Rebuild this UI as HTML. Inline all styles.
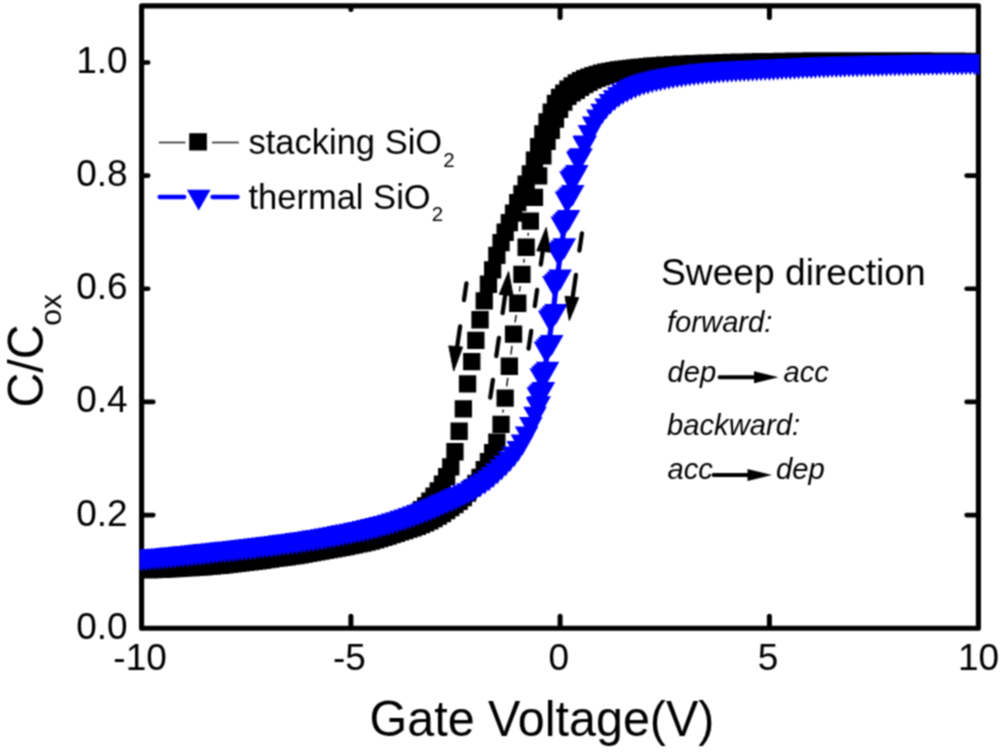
<!DOCTYPE html>
<html lang="en"><head><meta charset="utf-8"><title>C-V hysteresis: stacking vs thermal SiO2</title>
<style>html,body{margin:0;padding:0;background:#fff}body{width:1000px;height:752px;overflow:hidden}svg{display:block}text{font-family:"Liberation Sans",Arial,Helvetica,sans-serif;fill:#000}</style></head><body>
<svg width="1000" height="752" viewBox="0 0 1000 752">
<rect width="1000" height="752" fill="#fff"/>
<defs><clipPath id="plot"><rect x="140" y="4" width="839" height="626"/></clipPath><filter id="soft" x="0" y="0" width="1000" height="752" filterUnits="userSpaceOnUse"><feConvolveMatrix order="3" kernelMatrix="1 2 1 2 4 2 1 2 1" divisor="16" edgeMode="duplicate" preserveAlpha="false"/></filter></defs>
<g filter="url(#soft)">
<g stroke="#000" stroke-linecap="round" fill="none">
<rect x="141.6" y="5.9" width="836.8" height="622.3000000000001" stroke-width="5.1" stroke-linejoin="round"/>
<path stroke-width="4.6" d="M142.2 515.1H153.3M977.8 515.1H966.6M142.2 401.9H153.3M977.8 401.9H966.6M142.2 288.8H148.2M977.8 288.8H966.6M142.2 175.6H148.2M977.8 175.6H966.6M142.2 62.5H148.2M977.8 62.5H966.6"/>
<path stroke-width="5" d="M350.9 627.6V616.3M350.9 6.5V9.5M560.1 627.6V616.3M560.1 6.5V17.5M769.4 627.6V616.3M769.4 6.5V17.5"/>
</g>
<g clip-path="url(#plot)">
<path d="M502.9 412.7L503.3 409.7M506.7 386.3L507.8 377.9M510.9 354.5L512 345.8M515.1 322.4L516.2 314.9M519.4 291.5L520.2 286.1M523.7 262.7L524.3 258.9M528 235.6L528.4 232.8" stroke="#000" stroke-width="1.4" fill="none"/>
<path d="M132.4 560.7h17.3v17.3h-17.3zM136.6 560.5h17.3v17.3h-17.3zM140.8 560.3h17.3v17.3h-17.3zM145 560h17.3v17.3h-17.3zM149.2 559.8h17.3v17.3h-17.3zM153.4 559.5h17.3v17.3h-17.3zM157.6 559.2h17.3v17.3h-17.3zM161.7 559h17.3v17.3h-17.3zM165.9 558.7h17.3v17.3h-17.3zM170.1 558.4h17.3v17.3h-17.3zM174.3 558h17.3v17.3h-17.3zM178.5 557.7h17.3v17.3h-17.3zM182.7 557.4h17.3v17.3h-17.3zM186.9 557.1h17.3v17.3h-17.3zM191 556.7h17.3v17.3h-17.3zM195.2 556.4h17.3v17.3h-17.3zM199.4 556h17.3v17.3h-17.3zM203.6 555.6h17.3v17.3h-17.3zM207.8 555.3h17.3v17.3h-17.3zM212 554.9h17.3v17.3h-17.3zM216.1 554.5h17.3v17.3h-17.3zM220.3 554.1h17.3v17.3h-17.3zM224.5 553.7h17.3v17.3h-17.3zM228.7 553.3h17.3v17.3h-17.3zM232.9 552.9h17.3v17.3h-17.3zM237.1 552.4h17.3v17.3h-17.3zM241.3 552h17.3v17.3h-17.3zM245.4 551.5h17.3v17.3h-17.3zM249.6 551h17.3v17.3h-17.3zM253.8 550.5h17.3v17.3h-17.3zM258 550h17.3v17.3h-17.3zM262.2 549.5h17.3v17.3h-17.3zM266.4 549h17.3v17.3h-17.3zM270.6 548.4h17.3v17.3h-17.3zM274.7 547.9h17.3v17.3h-17.3zM278.9 547.3h17.3v17.3h-17.3zM283.1 546.7h17.3v17.3h-17.3zM287.3 546.2h17.3v17.3h-17.3zM291.5 545.6h17.3v17.3h-17.3zM295.7 544.9h17.3v17.3h-17.3zM299.8 544.3h17.3v17.3h-17.3zM304 543.7h17.3v17.3h-17.3zM308.2 543h17.3v17.3h-17.3zM312.4 542.2h17.3v17.3h-17.3zM316.6 541.5h17.3v17.3h-17.3zM320.8 540.7h17.3v17.3h-17.3zM325 539.9h17.3v17.3h-17.3zM329.1 539h17.3v17.3h-17.3zM333.3 538.2h17.3v17.3h-17.3zM337.5 537.3h17.3v17.3h-17.3zM341.7 536.4h17.3v17.3h-17.3zM345.9 535.5h17.3v17.3h-17.3zM350.1 534.5h17.3v17.3h-17.3zM354.3 533.6h17.3v17.3h-17.3zM358.4 532.5h17.3v17.3h-17.3zM362.6 531.3h17.3v17.3h-17.3zM366.8 530h17.3v17.3h-17.3zM371 528.6h17.3v17.3h-17.3zM375.2 527.1h17.3v17.3h-17.3zM379.4 525.3h17.3v17.3h-17.3zM383.5 523.4h17.3v17.3h-17.3zM387.7 521h17.3v17.3h-17.3zM391.9 518.1h17.3v17.3h-17.3zM396.1 514.9h17.3v17.3h-17.3zM400.3 511.5h17.3v17.3h-17.3zM404.5 508.1h17.3v17.3h-17.3zM408.7 504.7h17.3v17.3h-17.3zM412.8 501.1h17.3v17.3h-17.3zM417 497.2h17.3v17.3h-17.3zM421.2 492.5h17.3v17.3h-17.3zM425.4 487.6h17.3v17.3h-17.3zM429.6 482.2h17.3v17.3h-17.3zM433.8 475.6h17.3v17.3h-17.3zM438 467.9h17.3v17.3h-17.3zM442.1 458.3h17.3v17.3h-17.3zM446.3 443.1h17.3v17.3h-17.3zM450.5 422.6h17.3v17.3h-17.3zM454.7 400.2h17.3v17.3h-17.3zM458.9 375.2h17.3v17.3h-17.3zM463.1 353h17.3v17.3h-17.3zM467.2 331.7h17.3v17.3h-17.3zM471.4 311.1h17.3v17.3h-17.3zM475.6 292.3h17.3v17.3h-17.3zM479.8 275.6h17.3v17.3h-17.3zM484 261.2h17.3v17.3h-17.3zM488.2 246.8h17.3v17.3h-17.3zM492.4 234h17.3v17.3h-17.3zM496.5 223.6h17.3v17.3h-17.3zM500.7 214h17.3v17.3h-17.3zM504.9 204.4h17.3v17.3h-17.3zM509.1 194h17.3v17.3h-17.3zM513.3 185.2h17.3v17.3h-17.3zM517.5 175.6h17.3v17.3h-17.3zM521.7 165.2h17.3v17.3h-17.3zM525.8 151.6h17.3v17.3h-17.3zM530 138h17.3v17.3h-17.3zM534.2 125.2h17.3v17.3h-17.3zM538.4 113.2h17.3v17.3h-17.3zM542.6 103.6h17.3v17.3h-17.3zM546.8 94.7h17.3v17.3h-17.3zM550.9 88.8h17.3v17.3h-17.3zM555.1 84.4h17.3v17.3h-17.3zM559.3 80.6h17.3v17.3h-17.3zM563.5 77.2h17.3v17.3h-17.3zM567.7 74.3h17.3v17.3h-17.3zM571.9 72h17.3v17.3h-17.3zM576.1 70h17.3v17.3h-17.3zM580.2 68.4h17.3v17.3h-17.3zM584.4 66.9h17.3v17.3h-17.3zM588.6 65.7h17.3v17.3h-17.3zM592.8 64.5h17.3v17.3h-17.3zM597 63.6h17.3v17.3h-17.3zM601.2 62.7h17.3v17.3h-17.3zM605.4 62h17.3v17.3h-17.3zM609.5 61.3h17.3v17.3h-17.3zM613.7 60.7h17.3v17.3h-17.3zM617.9 60.2h17.3v17.3h-17.3zM622.1 59.7h17.3v17.3h-17.3zM626.3 59.2h17.3v17.3h-17.3zM630.5 58.8h17.3v17.3h-17.3zM634.6 58.4h17.3v17.3h-17.3zM638.8 57.9h17.3v17.3h-17.3zM643 57.6h17.3v17.3h-17.3zM647.2 57.2h17.3v17.3h-17.3zM651.4 56.9h17.3v17.3h-17.3zM655.6 56.6h17.3v17.3h-17.3zM659.8 56.4h17.3v17.3h-17.3zM663.9 56.1h17.3v17.3h-17.3zM668.1 55.9h17.3v17.3h-17.3zM672.3 55.6h17.3v17.3h-17.3zM676.5 55.4h17.3v17.3h-17.3zM680.7 55.2h17.3v17.3h-17.3zM684.9 55.1h17.3v17.3h-17.3zM689.1 54.9h17.3v17.3h-17.3zM693.2 54.7h17.3v17.3h-17.3zM697.4 54.6h17.3v17.3h-17.3zM701.6 54.4h17.3v17.3h-17.3zM705.8 54.3h17.3v17.3h-17.3zM710 54.2h17.3v17.3h-17.3zM714.2 54.1h17.3v17.3h-17.3zM718.3 53.9h17.3v17.3h-17.3zM722.5 53.8h17.3v17.3h-17.3zM726.7 53.7h17.3v17.3h-17.3zM730.9 53.6h17.3v17.3h-17.3zM735.1 53.5h17.3v17.3h-17.3zM739.3 53.4h17.3v17.3h-17.3zM743.5 53.3h17.3v17.3h-17.3zM747.6 53.2h17.3v17.3h-17.3zM751.8 53.1h17.3v17.3h-17.3zM756 53.1h17.3v17.3h-17.3zM760.2 53h17.3v17.3h-17.3zM764.4 52.9h17.3v17.3h-17.3zM768.6 52.9h17.3v17.3h-17.3zM772.8 52.8h17.3v17.3h-17.3zM776.9 52.7h17.3v17.3h-17.3zM781.1 52.7h17.3v17.3h-17.3zM785.3 52.6h17.3v17.3h-17.3zM789.5 52.5h17.3v17.3h-17.3zM793.7 52.5h17.3v17.3h-17.3zM797.9 52.4h17.3v17.3h-17.3zM802 52.3h17.3v17.3h-17.3zM806.2 52.3h17.3v17.3h-17.3zM810.4 52.3h17.3v17.3h-17.3zM814.6 52.2h17.3v17.3h-17.3zM818.8 52.2h17.3v17.3h-17.3zM823 52.2h17.3v17.3h-17.3zM827.2 52.2h17.3v17.3h-17.3zM831.3 52.2h17.3v17.3h-17.3zM835.5 52.2h17.3v17.3h-17.3zM839.7 52.2h17.3v17.3h-17.3zM843.9 52.2h17.3v17.3h-17.3zM848.1 52.2h17.3v17.3h-17.3zM852.3 52.2h17.3v17.3h-17.3zM856.5 52.2h17.3v17.3h-17.3zM860.6 52.2h17.3v17.3h-17.3zM864.8 52.2h17.3v17.3h-17.3zM869 52.2h17.3v17.3h-17.3zM873.2 52.2h17.3v17.3h-17.3zM877.4 52.2h17.3v17.3h-17.3zM881.6 52.2h17.3v17.3h-17.3zM885.7 52.2h17.3v17.3h-17.3zM889.9 52.2h17.3v17.3h-17.3zM894.1 52.2h17.3v17.3h-17.3zM898.3 52.2h17.3v17.3h-17.3zM902.5 52.3h17.3v17.3h-17.3zM906.7 52.3h17.3v17.3h-17.3zM910.9 52.3h17.3v17.3h-17.3zM915 52.3h17.3v17.3h-17.3zM919.2 52.4h17.3v17.3h-17.3zM923.4 52.4h17.3v17.3h-17.3zM927.6 52.4h17.3v17.3h-17.3zM931.8 52.5h17.3v17.3h-17.3zM936 52.5h17.3v17.3h-17.3zM940.2 52.5h17.3v17.3h-17.3zM944.3 52.6h17.3v17.3h-17.3zM948.5 52.6h17.3v17.3h-17.3zM952.7 52.7h17.3v17.3h-17.3zM956.9 52.7h17.3v17.3h-17.3zM961.1 52.8h17.3v17.3h-17.3zM965.3 52.9h17.3v17.3h-17.3zM969.4 52.9h17.3v17.3h-17.3zM132.4 561.3h17.3v17.3h-17.3zM136.6 561.2h17.3v17.3h-17.3zM140.8 561.1h17.3v17.3h-17.3zM145 560.9h17.3v17.3h-17.3zM149.2 560.8h17.3v17.3h-17.3zM153.4 560.6h17.3v17.3h-17.3zM157.6 560.4h17.3v17.3h-17.3zM161.7 560.2h17.3v17.3h-17.3zM165.9 560h17.3v17.3h-17.3zM170.1 559.8h17.3v17.3h-17.3zM174.3 559.5h17.3v17.3h-17.3zM178.5 559.3h17.3v17.3h-17.3zM182.7 559h17.3v17.3h-17.3zM186.9 558.7h17.3v17.3h-17.3zM191 558.4h17.3v17.3h-17.3zM195.2 558.1h17.3v17.3h-17.3zM199.4 557.8h17.3v17.3h-17.3zM203.6 557.4h17.3v17.3h-17.3zM207.8 557h17.3v17.3h-17.3zM212 556.6h17.3v17.3h-17.3zM216.1 556.2h17.3v17.3h-17.3zM220.3 555.7h17.3v17.3h-17.3zM224.5 555.2h17.3v17.3h-17.3zM228.7 554.8h17.3v17.3h-17.3zM232.9 554.3h17.3v17.3h-17.3zM237.1 553.7h17.3v17.3h-17.3zM241.3 553.2h17.3v17.3h-17.3zM245.4 552.7h17.3v17.3h-17.3zM249.6 552.1h17.3v17.3h-17.3zM253.8 551.6h17.3v17.3h-17.3zM258 551h17.3v17.3h-17.3zM262.2 550.4h17.3v17.3h-17.3zM266.4 549.8h17.3v17.3h-17.3zM270.6 549.3h17.3v17.3h-17.3zM274.7 548.7h17.3v17.3h-17.3zM278.9 548.1h17.3v17.3h-17.3zM283.1 547.5h17.3v17.3h-17.3zM287.3 546.9h17.3v17.3h-17.3zM291.5 546.2h17.3v17.3h-17.3zM295.7 545.5h17.3v17.3h-17.3zM299.8 544.8h17.3v17.3h-17.3zM304 544h17.3v17.3h-17.3zM308.2 543.3h17.3v17.3h-17.3zM312.4 542.5h17.3v17.3h-17.3zM316.6 541.7h17.3v17.3h-17.3zM320.8 541h17.3v17.3h-17.3zM325 540.2h17.3v17.3h-17.3zM329.1 539.5h17.3v17.3h-17.3zM333.3 538.7h17.3v17.3h-17.3zM337.5 537.9h17.3v17.3h-17.3zM341.7 537h17.3v17.3h-17.3zM345.9 536.2h17.3v17.3h-17.3zM350.1 535.3h17.3v17.3h-17.3zM354.3 534.4h17.3v17.3h-17.3zM358.4 533.4h17.3v17.3h-17.3zM362.6 532.4h17.3v17.3h-17.3zM366.8 531.2h17.3v17.3h-17.3zM371 530h17.3v17.3h-17.3zM375.2 528.7h17.3v17.3h-17.3zM379.4 527.4h17.3v17.3h-17.3zM383.5 526h17.3v17.3h-17.3zM387.7 524.6h17.3v17.3h-17.3zM391.9 523.2h17.3v17.3h-17.3zM396.1 521.9h17.3v17.3h-17.3zM400.3 520.5h17.3v17.3h-17.3zM404.5 519.1h17.3v17.3h-17.3zM408.7 517.6h17.3v17.3h-17.3zM412.8 515.9h17.3v17.3h-17.3zM417 514.2h17.3v17.3h-17.3zM421.2 512.1h17.3v17.3h-17.3zM425.4 509.9h17.3v17.3h-17.3zM429.6 507.5h17.3v17.3h-17.3zM433.8 504.9h17.3v17.3h-17.3zM438 502h17.3v17.3h-17.3zM442.1 499h17.3v17.3h-17.3zM446.3 495.9h17.3v17.3h-17.3zM450.5 492.6h17.3v17.3h-17.3zM454.7 488.9h17.3v17.3h-17.3zM458.9 484.4h17.3v17.3h-17.3zM463.1 479.5h17.3v17.3h-17.3zM467.2 474.7h17.3v17.3h-17.3zM471.4 468.7h17.3v17.3h-17.3zM475.6 460.9h17.3v17.3h-17.3zM479.8 452.9h17.3v17.3h-17.3zM484 444h17.3v17.3h-17.3zM488.2 433.4h17.3v17.3h-17.3zM492.4 415.7h17.3v17.3h-17.3zM496.5 389.4h17.3v17.3h-17.3zM500.7 357.6h17.3v17.3h-17.3zM504.9 325.4h17.3v17.3h-17.3zM509.1 294.6h17.3v17.3h-17.3zM513.3 265.8h17.3v17.3h-17.3zM517.5 238.6h17.3v17.3h-17.3zM521.7 212.5h17.3v17.3h-17.3zM525.8 188.8h17.3v17.3h-17.3zM530 167.2h17.3v17.3h-17.3zM534.2 147.2h17.3v17.3h-17.3zM538.4 132.8h17.3v17.3h-17.3zM542.6 121.6h17.3v17.3h-17.3zM546.8 110.4h17.3v17.3h-17.3zM550.9 100.7h17.3v17.3h-17.3zM555.1 93.4h17.3v17.3h-17.3zM559.3 87.8h17.3v17.3h-17.3zM563.5 84.3h17.3v17.3h-17.3zM567.7 81.6h17.3v17.3h-17.3zM571.9 78.7h17.3v17.3h-17.3zM576.1 76h17.3v17.3h-17.3zM580.2 73.6h17.3v17.3h-17.3zM584.4 71.4h17.3v17.3h-17.3zM588.6 69.7h17.3v17.3h-17.3zM592.8 68.2h17.3v17.3h-17.3zM597 66.9h17.3v17.3h-17.3zM601.2 65.7h17.3v17.3h-17.3zM605.4 64.7h17.3v17.3h-17.3zM609.5 63.7h17.3v17.3h-17.3zM613.7 62.9h17.3v17.3h-17.3zM617.9 62.1h17.3v17.3h-17.3zM622.1 61.4h17.3v17.3h-17.3zM626.3 60.7h17.3v17.3h-17.3zM630.5 60.1h17.3v17.3h-17.3zM634.6 59.4h17.3v17.3h-17.3zM638.8 58.9h17.3v17.3h-17.3zM643 58.4h17.3v17.3h-17.3zM647.2 57.9h17.3v17.3h-17.3zM651.4 57.5h17.3v17.3h-17.3zM655.6 57.2h17.3v17.3h-17.3zM659.8 56.9h17.3v17.3h-17.3zM663.9 56.6h17.3v17.3h-17.3zM668.1 56.4h17.3v17.3h-17.3zM672.3 56.1h17.3v17.3h-17.3zM676.5 55.9h17.3v17.3h-17.3zM680.7 55.7h17.3v17.3h-17.3zM684.9 55.5h17.3v17.3h-17.3zM689.1 55.3h17.3v17.3h-17.3zM693.2 55.2h17.3v17.3h-17.3zM697.4 55h17.3v17.3h-17.3zM701.6 54.9h17.3v17.3h-17.3zM705.8 54.7h17.3v17.3h-17.3zM710 54.6h17.3v17.3h-17.3zM714.2 54.4h17.3v17.3h-17.3zM718.3 54.3h17.3v17.3h-17.3zM722.5 54.2h17.3v17.3h-17.3zM726.7 54.1h17.3v17.3h-17.3zM730.9 53.9h17.3v17.3h-17.3zM735.1 53.8h17.3v17.3h-17.3zM739.3 53.7h17.3v17.3h-17.3zM743.5 53.6h17.3v17.3h-17.3zM747.6 53.5h17.3v17.3h-17.3zM751.8 53.4h17.3v17.3h-17.3zM756 53.4h17.3v17.3h-17.3zM760.2 53.3h17.3v17.3h-17.3zM764.4 53.2h17.3v17.3h-17.3zM768.6 53.1h17.3v17.3h-17.3zM772.8 53.1h17.3v17.3h-17.3zM776.9 53h17.3v17.3h-17.3zM781.1 52.9h17.3v17.3h-17.3zM785.3 52.9h17.3v17.3h-17.3zM789.5 52.8h17.3v17.3h-17.3zM793.7 52.7h17.3v17.3h-17.3zM797.9 52.7h17.3v17.3h-17.3zM802 52.6h17.3v17.3h-17.3zM806.2 52.6h17.3v17.3h-17.3zM810.4 52.5h17.3v17.3h-17.3zM814.6 52.5h17.3v17.3h-17.3zM818.8 52.5h17.3v17.3h-17.3zM823 52.5h17.3v17.3h-17.3zM827.2 52.4h17.3v17.3h-17.3zM831.3 52.4h17.3v17.3h-17.3zM835.5 52.4h17.3v17.3h-17.3zM839.7 52.4h17.3v17.3h-17.3zM843.9 52.4h17.3v17.3h-17.3zM848.1 52.4h17.3v17.3h-17.3zM852.3 52.4h17.3v17.3h-17.3zM856.5 52.4h17.3v17.3h-17.3zM860.6 52.4h17.3v17.3h-17.3zM864.8 52.4h17.3v17.3h-17.3zM869 52.5h17.3v17.3h-17.3zM873.2 52.5h17.3v17.3h-17.3zM877.4 52.5h17.3v17.3h-17.3zM881.6 52.5h17.3v17.3h-17.3zM885.7 52.5h17.3v17.3h-17.3zM889.9 52.5h17.3v17.3h-17.3zM894.1 52.5h17.3v17.3h-17.3zM898.3 52.5h17.3v17.3h-17.3zM902.5 52.5h17.3v17.3h-17.3zM906.7 52.6h17.3v17.3h-17.3zM910.9 52.6h17.3v17.3h-17.3zM915 52.6h17.3v17.3h-17.3zM919.2 52.6h17.3v17.3h-17.3zM923.4 52.7h17.3v17.3h-17.3zM927.6 52.7h17.3v17.3h-17.3zM931.8 52.7h17.3v17.3h-17.3zM936 52.8h17.3v17.3h-17.3zM940.2 52.8h17.3v17.3h-17.3zM944.3 52.8h17.3v17.3h-17.3zM948.5 52.9h17.3v17.3h-17.3zM952.7 52.9h17.3v17.3h-17.3zM956.9 53h17.3v17.3h-17.3zM961.1 53h17.3v17.3h-17.3zM965.3 53.1h17.3v17.3h-17.3zM969.4 53.2h17.3v17.3h-17.3z" fill="#000"/>
<path d="M141.6 557.2L145.8 556.8L150 556.5L154.2 556.1L158.3 555.7L162.5 555.3L166.7 554.9L170.9 554.5L175.1 554.1L179.3 553.7L183.4 553.3L187.6 552.8L191.8 552.4L196 552L200.2 551.5L204.4 551.1L208.6 550.6L212.7 550.2L216.9 549.7L221.1 549.2L225.3 548.8L229.5 548.3L233.7 547.8L237.9 547.4L242 546.9L246.2 546.4L250.4 545.9L254.6 545.4L258.8 544.9L263 544.4L267.2 543.9L271.3 543.4L275.5 542.8L279.7 542.3L283.9 541.7L288.1 541.2L292.3 540.6L296.4 540L300.6 539.4L304.8 538.8L309 538.2L313.2 537.5L317.4 536.9L321.6 536.2L325.7 535.4L329.9 534.7L334.1 533.9L338.3 533.1L342.5 532.3L346.7 531.4L350.9 530.6L355 529.8L359.2 528.9L363.4 528L367.6 527.1L371.8 526.1L376 525.1L380.1 524L384.3 522.9L388.5 521.7L392.7 520.4L396.9 519.1L401.1 517.7L405.3 516.3L409.4 514.9L413.6 513.4L417.8 511.9L422 510.4L426.2 508.8L430.4 507.1L434.6 505.4L438.7 503.6L442.9 501.7L447.1 499.9L451.3 498L455.5 496.1L459.7 494.2L463.8 492.2L468 490.2L472.2 488L476.4 485.7L480.6 483.3L484.8 480.6L489 477.6L493.1 474.3L497.3 470.6L501.5 466.8L505.7 462.6L509.9 458.2L514.1 453.3L518.2 447.8L522.4 441.5L526.6 433.4L530.8 424L535 413.7L538.5 404L540.8 391.5L544.4 371.9L548.6 345.1L552.8 314.1L557 279.7L561.1 248.5L565.3 220.1L569.5 195.3L573.9 175.1L579.4 156.9L584.8 142.9L589.4 132.1L593.6 123.3L597.8 116.4L602 110.6L606.1 105.4L610.3 101L614.5 97.2L618.7 93.9L622.9 91.1L627.1 88.8L631.2 86.7L635.4 84.9L639.6 83.2L643.8 81.7L648 80.5L652.2 79.4L656.4 78.4L660.5 77.5L664.7 76.6L668.9 75.9L673.1 75.1L677.3 74.5L681.5 73.8L685.7 73.2L689.8 72.7L694 72.1L698.2 71.6L702.4 71.1L706.6 70.7L710.8 70.4L714.9 70L719.1 69.7L723.3 69.5L727.5 69.2L731.7 68.9L735.9 68.7L740.1 68.5L744.2 68.3L748.4 68L752.6 67.8L756.8 67.6L761 67.4L765.2 67.2L769.4 67L773.5 66.8L777.7 66.6L781.9 66.4L786.1 66.2L790.3 66L794.5 65.8L798.6 65.6L802.8 65.5L807 65.3L811.2 65.1L815.4 64.9L819.6 64.7L823.8 64.6L827.9 64.4L832.1 64.3L836.3 64.1L840.5 64L844.7 63.9L848.9 63.7L853 63.6L857.2 63.5L861.4 63.4L865.6 63.3L869.8 63.2L874 63.1L878.2 63L882.3 62.9L886.5 62.8L890.7 62.7L894.9 62.6L899.1 62.5L903.3 62.4L907.5 62.3L911.6 62.3L915.8 62.2L920 62.1L924.2 62L928.4 61.9L932.6 61.9L936.8 61.8L940.9 61.7L945.1 61.7L949.3 61.6L953.5 61.6L957.7 61.5L961.9 61.5L966 61.4L970.2 61.4L974.4 61.4L978.6 61.4" stroke="#0000fe" stroke-width="5.2" fill="none" stroke-linejoin="round"/>
<path d="M129.8 550.3h23.6l-11.8 20.8zM134 549.9h23.6l-11.8 20.8zM138.2 549.5h23.6l-11.8 20.8zM142.4 549.1h23.6l-11.8 20.8zM146.5 548.8h23.6l-11.8 20.8zM150.7 548.4h23.6l-11.8 20.8zM154.9 548h23.6l-11.8 20.8zM159.1 547.6h23.6l-11.8 20.8zM163.3 547.2h23.6l-11.8 20.8zM167.5 546.7h23.6l-11.8 20.8zM171.6 546.3h23.6l-11.8 20.8zM175.8 545.9h23.6l-11.8 20.8zM180 545.5h23.6l-11.8 20.8zM184.2 545h23.6l-11.8 20.8zM188.4 544.6h23.6l-11.8 20.8zM192.6 544.1h23.6l-11.8 20.8zM196.8 543.7h23.6l-11.8 20.8zM200.9 543.2h23.6l-11.8 20.8zM205.1 542.8h23.6l-11.8 20.8zM209.3 542.3h23.6l-11.8 20.8zM213.5 541.8h23.6l-11.8 20.8zM217.7 541.4h23.6l-11.8 20.8zM221.9 540.9h23.6l-11.8 20.8zM226.1 540.4h23.6l-11.8 20.8zM230.2 540h23.6l-11.8 20.8zM234.4 539.5h23.6l-11.8 20.8zM238.6 539h23.6l-11.8 20.8zM242.8 538.5h23.6l-11.8 20.8zM247 538h23.6l-11.8 20.8zM251.2 537.5h23.6l-11.8 20.8zM255.4 536.9h23.6l-11.8 20.8zM259.5 536.4h23.6l-11.8 20.8zM263.7 535.9h23.6l-11.8 20.8zM267.9 535.3h23.6l-11.8 20.8zM272.1 534.8h23.6l-11.8 20.8zM276.3 534.2h23.6l-11.8 20.8zM280.5 533.7h23.6l-11.8 20.8zM284.6 533.1h23.6l-11.8 20.8zM288.8 532.5h23.6l-11.8 20.8zM293 531.9h23.6l-11.8 20.8zM297.2 531.2h23.6l-11.8 20.8zM301.4 530.6h23.6l-11.8 20.8zM305.6 529.9h23.6l-11.8 20.8zM309.8 529.2h23.6l-11.8 20.8zM313.9 528.5h23.6l-11.8 20.8zM318.1 527.7h23.6l-11.8 20.8zM322.3 526.9h23.6l-11.8 20.8zM326.5 526.1h23.6l-11.8 20.8zM330.7 525.3h23.6l-11.8 20.8zM334.9 524.5h23.6l-11.8 20.8zM339.1 523.7h23.6l-11.8 20.8zM343.2 522.8h23.6l-11.8 20.8zM347.4 521.9h23.6l-11.8 20.8zM351.6 521.1h23.6l-11.8 20.8zM355.8 520.1h23.6l-11.8 20.8zM360 519.1h23.6l-11.8 20.8zM364.2 518.1h23.6l-11.8 20.8zM368.3 517.1h23.6l-11.8 20.8zM372.5 515.9h23.6l-11.8 20.8zM376.7 514.7h23.6l-11.8 20.8zM380.9 513.5h23.6l-11.8 20.8zM385.1 512.2h23.6l-11.8 20.8zM389.3 510.8h23.6l-11.8 20.8zM393.5 509.4h23.6l-11.8 20.8zM397.6 508h23.6l-11.8 20.8zM401.8 506.5h23.6l-11.8 20.8zM406 505h23.6l-11.8 20.8zM410.2 503.4h23.6l-11.8 20.8zM414.4 501.8h23.6l-11.8 20.8zM418.6 500.2h23.6l-11.8 20.8zM422.8 498.4h23.6l-11.8 20.8zM426.9 496.6h23.6l-11.8 20.8zM431.1 494.8h23.6l-11.8 20.8zM435.3 492.9h23.6l-11.8 20.8zM439.5 491h23.6l-11.8 20.8zM443.7 489.1h23.6l-11.8 20.8zM447.9 487.2h23.6l-11.8 20.8zM452 485.3h23.6l-11.8 20.8zM456.2 483.2h23.6l-11.8 20.8zM460.4 481.1h23.6l-11.8 20.8zM464.6 478.8h23.6l-11.8 20.8zM468.8 476.3h23.6l-11.8 20.8zM473 473.6h23.6l-11.8 20.8zM477.2 470.6h23.6l-11.8 20.8zM481.3 467.3h23.6l-11.8 20.8zM485.5 463.7h23.6l-11.8 20.8zM489.7 459.8h23.6l-11.8 20.8zM493.9 455.7h23.6l-11.8 20.8zM498.1 451.3h23.6l-11.8 20.8zM502.3 446.4h23.6l-11.8 20.8zM506.4 440.9h23.6l-11.8 20.8zM510.6 434.6h23.6l-11.8 20.8zM514.8 426.5h23.6l-11.8 20.8zM519 417h23.6l-11.8 20.8zM523.2 406.8h23.6l-11.8 20.8zM527.4 396.3h23.6l-11.8 20.8zM531.6 382h23.6l-11.8 20.8zM535.7 361.8h23.6l-11.8 20.8zM539.9 335h23.6l-11.8 20.8zM544.1 304h23.6l-11.8 20.8zM548.3 269.6h23.6l-11.8 20.8zM552.5 238.3h23.6l-11.8 20.8zM556.7 209.9h23.6l-11.8 20.8zM560.9 185.1h23.6l-11.8 20.8zM565 165.1h23.6l-11.8 20.8zM569.2 148.3h23.6l-11.8 20.8zM573.4 135.6h23.6l-11.8 20.8zM577.6 125.1h23.6l-11.8 20.8zM581.8 116.4h23.6l-11.8 20.8zM586 109.5h23.6l-11.8 20.8zM590.2 103.7h23.6l-11.8 20.8zM594.3 98.5h23.6l-11.8 20.8zM598.5 94h23.6l-11.8 20.8zM602.7 90.2h23.6l-11.8 20.8zM606.9 87h23.6l-11.8 20.8zM611.1 84.2h23.6l-11.8 20.8zM615.3 81.9h23.6l-11.8 20.8zM619.4 79.8h23.6l-11.8 20.8zM623.6 77.9h23.6l-11.8 20.8zM627.8 76.2h23.6l-11.8 20.8zM632 74.8h23.6l-11.8 20.8zM636.2 73.6h23.6l-11.8 20.8zM640.4 72.5h23.6l-11.8 20.8zM644.6 71.5h23.6l-11.8 20.8zM648.7 70.6h23.6l-11.8 20.8zM652.9 69.7h23.6l-11.8 20.8zM657.1 68.9h23.6l-11.8 20.8zM661.3 68.2h23.6l-11.8 20.8zM665.5 67.5h23.6l-11.8 20.8zM669.7 66.9h23.6l-11.8 20.8zM673.9 66.3h23.6l-11.8 20.8zM678 65.7h23.6l-11.8 20.8zM682.2 65.2h23.6l-11.8 20.8zM686.4 64.6h23.6l-11.8 20.8zM690.6 64.2h23.6l-11.8 20.8zM694.8 63.8h23.6l-11.8 20.8zM699 63.4h23.6l-11.8 20.8zM703.1 63.1h23.6l-11.8 20.8zM707.3 62.8h23.6l-11.8 20.8zM711.5 62.5h23.6l-11.8 20.8zM715.7 62.3h23.6l-11.8 20.8zM719.9 62h23.6l-11.8 20.8zM724.1 61.8h23.6l-11.8 20.8zM728.3 61.5h23.6l-11.8 20.8zM732.4 61.3h23.6l-11.8 20.8zM736.6 61.1h23.6l-11.8 20.8zM740.8 60.9h23.6l-11.8 20.8zM745 60.7h23.6l-11.8 20.8zM749.2 60.5h23.6l-11.8 20.8zM753.4 60.3h23.6l-11.8 20.8zM757.6 60.1h23.6l-11.8 20.8zM761.7 59.9h23.6l-11.8 20.8zM765.9 59.7h23.6l-11.8 20.8zM770.1 59.5h23.6l-11.8 20.8zM774.3 59.3h23.6l-11.8 20.8zM778.5 59.1h23.6l-11.8 20.8zM782.7 58.9h23.6l-11.8 20.8zM786.8 58.7h23.6l-11.8 20.8zM791 58.5h23.6l-11.8 20.8zM795.2 58.3h23.6l-11.8 20.8zM799.4 58.2h23.6l-11.8 20.8zM803.6 58h23.6l-11.8 20.8zM807.8 57.8h23.6l-11.8 20.8zM812 57.6h23.6l-11.8 20.8zM816.1 57.5h23.6l-11.8 20.8zM820.3 57.3h23.6l-11.8 20.8zM824.5 57.2h23.6l-11.8 20.8zM828.7 57.1h23.6l-11.8 20.8zM832.9 56.9h23.6l-11.8 20.8zM837.1 56.8h23.6l-11.8 20.8zM841.2 56.7h23.6l-11.8 20.8zM845.4 56.6h23.6l-11.8 20.8zM849.6 56.5h23.6l-11.8 20.8zM853.8 56.4h23.6l-11.8 20.8zM858 56.3h23.6l-11.8 20.8zM862.2 56.2h23.6l-11.8 20.8zM866.4 56.1h23.6l-11.8 20.8zM870.5 56h23.6l-11.8 20.8zM874.7 55.9h23.6l-11.8 20.8zM878.9 55.8h23.6l-11.8 20.8zM883.1 55.7h23.6l-11.8 20.8zM887.3 55.6h23.6l-11.8 20.8zM891.5 55.5h23.6l-11.8 20.8zM895.7 55.4h23.6l-11.8 20.8zM899.8 55.3h23.6l-11.8 20.8zM904 55.2h23.6l-11.8 20.8zM908.2 55.2h23.6l-11.8 20.8zM912.4 55.1h23.6l-11.8 20.8zM916.6 55h23.6l-11.8 20.8zM920.8 54.9h23.6l-11.8 20.8zM925 54.9h23.6l-11.8 20.8zM929.1 54.8h23.6l-11.8 20.8zM933.3 54.7h23.6l-11.8 20.8zM937.5 54.7h23.6l-11.8 20.8zM941.7 54.6h23.6l-11.8 20.8zM945.9 54.6h23.6l-11.8 20.8zM950.1 54.6h23.6l-11.8 20.8zM954.2 54.5h23.6l-11.8 20.8zM958.4 54.5h23.6l-11.8 20.8zM962.6 54.5h23.6l-11.8 20.8zM966.8 54.4h23.6l-11.8 20.8zM129.8 550.3h23.6l-11.8 20.8zM134 549.9h23.6l-11.8 20.8zM138.2 549.5h23.6l-11.8 20.8zM142.4 549.1h23.6l-11.8 20.8zM146.5 548.8h23.6l-11.8 20.8zM150.7 548.4h23.6l-11.8 20.8zM154.9 548h23.6l-11.8 20.8zM159.1 547.6h23.6l-11.8 20.8zM163.3 547.2h23.6l-11.8 20.8zM167.5 546.7h23.6l-11.8 20.8zM171.6 546.3h23.6l-11.8 20.8zM175.8 545.9h23.6l-11.8 20.8zM180 545.5h23.6l-11.8 20.8zM184.2 545h23.6l-11.8 20.8zM188.4 544.6h23.6l-11.8 20.8zM192.6 544.1h23.6l-11.8 20.8zM196.8 543.7h23.6l-11.8 20.8zM200.9 543.2h23.6l-11.8 20.8zM205.1 542.8h23.6l-11.8 20.8zM209.3 542.3h23.6l-11.8 20.8zM213.5 541.8h23.6l-11.8 20.8zM217.7 541.4h23.6l-11.8 20.8zM221.9 540.9h23.6l-11.8 20.8zM226.1 540.4h23.6l-11.8 20.8zM230.2 540h23.6l-11.8 20.8zM234.4 539.5h23.6l-11.8 20.8zM238.6 539h23.6l-11.8 20.8zM242.8 538.5h23.6l-11.8 20.8zM247 538h23.6l-11.8 20.8zM251.2 537.5h23.6l-11.8 20.8zM255.4 536.9h23.6l-11.8 20.8zM259.5 536.4h23.6l-11.8 20.8zM263.7 535.9h23.6l-11.8 20.8zM267.9 535.3h23.6l-11.8 20.8zM272.1 534.8h23.6l-11.8 20.8zM276.3 534.2h23.6l-11.8 20.8zM280.5 533.7h23.6l-11.8 20.8zM284.6 533.1h23.6l-11.8 20.8zM288.8 532.5h23.6l-11.8 20.8zM293 531.9h23.6l-11.8 20.8zM297.2 531.2h23.6l-11.8 20.8zM301.4 530.6h23.6l-11.8 20.8zM305.6 529.9h23.6l-11.8 20.8zM309.8 529.2h23.6l-11.8 20.8zM313.9 528.5h23.6l-11.8 20.8zM318.1 527.7h23.6l-11.8 20.8zM322.3 526.9h23.6l-11.8 20.8zM326.5 526.1h23.6l-11.8 20.8zM330.7 525.3h23.6l-11.8 20.8zM334.9 524.5h23.6l-11.8 20.8zM339.1 523.7h23.6l-11.8 20.8zM343.2 522.8h23.6l-11.8 20.8zM347.4 521.9h23.6l-11.8 20.8zM351.6 521.1h23.6l-11.8 20.8zM355.8 520.1h23.6l-11.8 20.8zM360 519.1h23.6l-11.8 20.8zM364.2 518.1h23.6l-11.8 20.8zM368.3 517.1h23.6l-11.8 20.8zM372.5 515.9h23.6l-11.8 20.8zM376.7 514.7h23.6l-11.8 20.8zM380.9 513.5h23.6l-11.8 20.8zM385.1 512.2h23.6l-11.8 20.8zM389.3 510.8h23.6l-11.8 20.8zM393.5 509.4h23.6l-11.8 20.8zM397.6 508h23.6l-11.8 20.8zM401.8 506.5h23.6l-11.8 20.8zM406 505h23.6l-11.8 20.8zM410.2 503.4h23.6l-11.8 20.8zM414.4 501.8h23.6l-11.8 20.8zM418.6 500.2h23.6l-11.8 20.8zM422.8 498.4h23.6l-11.8 20.8zM426.9 496.6h23.6l-11.8 20.8zM431.1 494.8h23.6l-11.8 20.8zM435.3 492.9h23.6l-11.8 20.8zM439.5 491h23.6l-11.8 20.8zM443.7 489.1h23.6l-11.8 20.8zM447.9 487.2h23.6l-11.8 20.8zM452 485.3h23.6l-11.8 20.8zM456.2 483.2h23.6l-11.8 20.8zM460.4 481.1h23.6l-11.8 20.8zM464.6 478.8h23.6l-11.8 20.8zM468.8 476.3h23.6l-11.8 20.8zM473 473.6h23.6l-11.8 20.8zM477.2 470.6h23.6l-11.8 20.8zM481.3 467.3h23.6l-11.8 20.8zM485.5 463.7h23.6l-11.8 20.8zM489.7 459.8h23.6l-11.8 20.8zM493.9 455.7h23.6l-11.8 20.8zM498.1 451.3h23.6l-11.8 20.8zM502.3 446.4h23.6l-11.8 20.8zM506.4 440.9h23.6l-11.8 20.8zM510.6 434.6h23.6l-11.8 20.8zM514.8 426.5h23.6l-11.8 20.8zM519 417h23.6l-11.8 20.8zM523.2 406.8h23.6l-11.8 20.8zM526.9 396.8h23.6l-11.8 20.8zM529.8 383.7h23.6l-11.8 20.8zM533.6 363.9h23.6l-11.8 20.8zM537.8 337.1h23.6l-11.8 20.8zM542 306.1h23.6l-11.8 20.8zM546.2 271.7h23.6l-11.8 20.8zM550.4 240.5h23.6l-11.8 20.8zM554.6 212.1h23.6l-11.8 20.8zM558.8 187.3h23.6l-11.8 20.8zM563.1 167.2h23.6l-11.8 20.8zM568.1 149.5h23.6l-11.8 20.8zM573.1 135.8h23.6l-11.8 20.8zM577.6 125.1h23.6l-11.8 20.8zM581.8 116.4h23.6l-11.8 20.8zM586 109.5h23.6l-11.8 20.8zM590.2 103.7h23.6l-11.8 20.8zM594.3 98.5h23.6l-11.8 20.8zM598.5 94h23.6l-11.8 20.8zM602.7 90.2h23.6l-11.8 20.8zM606.9 87h23.6l-11.8 20.8zM611.1 84.2h23.6l-11.8 20.8zM615.3 81.9h23.6l-11.8 20.8zM619.4 79.8h23.6l-11.8 20.8zM623.6 77.9h23.6l-11.8 20.8zM627.8 76.2h23.6l-11.8 20.8zM632 74.8h23.6l-11.8 20.8zM636.2 73.6h23.6l-11.8 20.8zM640.4 72.5h23.6l-11.8 20.8zM644.6 71.5h23.6l-11.8 20.8zM648.7 70.6h23.6l-11.8 20.8zM652.9 69.7h23.6l-11.8 20.8zM657.1 68.9h23.6l-11.8 20.8zM661.3 68.2h23.6l-11.8 20.8zM665.5 67.5h23.6l-11.8 20.8zM669.7 66.9h23.6l-11.8 20.8zM673.9 66.3h23.6l-11.8 20.8zM678 65.7h23.6l-11.8 20.8zM682.2 65.2h23.6l-11.8 20.8zM686.4 64.6h23.6l-11.8 20.8zM690.6 64.2h23.6l-11.8 20.8zM694.8 63.8h23.6l-11.8 20.8zM699 63.4h23.6l-11.8 20.8zM703.1 63.1h23.6l-11.8 20.8zM707.3 62.8h23.6l-11.8 20.8zM711.5 62.5h23.6l-11.8 20.8zM715.7 62.3h23.6l-11.8 20.8zM719.9 62h23.6l-11.8 20.8zM724.1 61.8h23.6l-11.8 20.8zM728.3 61.5h23.6l-11.8 20.8zM732.4 61.3h23.6l-11.8 20.8zM736.6 61.1h23.6l-11.8 20.8zM740.8 60.9h23.6l-11.8 20.8zM745 60.7h23.6l-11.8 20.8zM749.2 60.5h23.6l-11.8 20.8zM753.4 60.3h23.6l-11.8 20.8zM757.6 60.1h23.6l-11.8 20.8zM761.7 59.9h23.6l-11.8 20.8zM765.9 59.7h23.6l-11.8 20.8zM770.1 59.5h23.6l-11.8 20.8zM774.3 59.3h23.6l-11.8 20.8zM778.5 59.1h23.6l-11.8 20.8zM782.7 58.9h23.6l-11.8 20.8zM786.8 58.7h23.6l-11.8 20.8zM791 58.5h23.6l-11.8 20.8zM795.2 58.3h23.6l-11.8 20.8zM799.4 58.2h23.6l-11.8 20.8zM803.6 58h23.6l-11.8 20.8zM807.8 57.8h23.6l-11.8 20.8zM812 57.6h23.6l-11.8 20.8zM816.1 57.5h23.6l-11.8 20.8zM820.3 57.3h23.6l-11.8 20.8zM824.5 57.2h23.6l-11.8 20.8zM828.7 57.1h23.6l-11.8 20.8zM832.9 56.9h23.6l-11.8 20.8zM837.1 56.8h23.6l-11.8 20.8zM841.2 56.7h23.6l-11.8 20.8zM845.4 56.6h23.6l-11.8 20.8zM849.6 56.5h23.6l-11.8 20.8zM853.8 56.4h23.6l-11.8 20.8zM858 56.3h23.6l-11.8 20.8zM862.2 56.2h23.6l-11.8 20.8zM866.4 56.1h23.6l-11.8 20.8zM870.5 56h23.6l-11.8 20.8zM874.7 55.9h23.6l-11.8 20.8zM878.9 55.8h23.6l-11.8 20.8zM883.1 55.7h23.6l-11.8 20.8zM887.3 55.6h23.6l-11.8 20.8zM891.5 55.5h23.6l-11.8 20.8zM895.7 55.4h23.6l-11.8 20.8zM899.8 55.3h23.6l-11.8 20.8zM904 55.2h23.6l-11.8 20.8zM908.2 55.2h23.6l-11.8 20.8zM912.4 55.1h23.6l-11.8 20.8zM916.6 55h23.6l-11.8 20.8zM920.8 54.9h23.6l-11.8 20.8zM925 54.9h23.6l-11.8 20.8zM929.1 54.8h23.6l-11.8 20.8zM933.3 54.7h23.6l-11.8 20.8zM937.5 54.7h23.6l-11.8 20.8zM941.7 54.6h23.6l-11.8 20.8zM945.9 54.6h23.6l-11.8 20.8zM950.1 54.6h23.6l-11.8 20.8zM954.2 54.5h23.6l-11.8 20.8zM958.4 54.5h23.6l-11.8 20.8zM962.6 54.5h23.6l-11.8 20.8zM966.8 54.4h23.6l-11.8 20.8zM129.8 550.3h23.6l-11.8 20.8zM134 549.9h23.6l-11.8 20.8zM138.2 549.5h23.6l-11.8 20.8zM142.4 549.1h23.6l-11.8 20.8zM146.5 548.8h23.6l-11.8 20.8zM150.7 548.4h23.6l-11.8 20.8zM154.9 548h23.6l-11.8 20.8zM159.1 547.6h23.6l-11.8 20.8zM163.3 547.2h23.6l-11.8 20.8zM167.5 546.7h23.6l-11.8 20.8zM171.6 546.3h23.6l-11.8 20.8zM175.8 545.9h23.6l-11.8 20.8zM180 545.5h23.6l-11.8 20.8zM184.2 545h23.6l-11.8 20.8zM188.4 544.6h23.6l-11.8 20.8zM192.6 544.1h23.6l-11.8 20.8zM196.8 543.7h23.6l-11.8 20.8zM200.9 543.2h23.6l-11.8 20.8zM205.1 542.8h23.6l-11.8 20.8zM209.3 542.3h23.6l-11.8 20.8zM213.5 541.8h23.6l-11.8 20.8zM217.7 541.4h23.6l-11.8 20.8zM221.9 540.9h23.6l-11.8 20.8zM226.1 540.4h23.6l-11.8 20.8zM230.2 540h23.6l-11.8 20.8zM234.4 539.5h23.6l-11.8 20.8zM238.6 539h23.6l-11.8 20.8zM242.8 538.5h23.6l-11.8 20.8zM247 538h23.6l-11.8 20.8zM251.2 537.5h23.6l-11.8 20.8zM255.4 536.9h23.6l-11.8 20.8zM259.5 536.4h23.6l-11.8 20.8zM263.7 535.9h23.6l-11.8 20.8zM267.9 535.3h23.6l-11.8 20.8zM272.1 534.8h23.6l-11.8 20.8zM276.3 534.2h23.6l-11.8 20.8zM280.5 533.7h23.6l-11.8 20.8zM284.6 533.1h23.6l-11.8 20.8zM288.8 532.5h23.6l-11.8 20.8zM293 531.9h23.6l-11.8 20.8zM297.2 531.2h23.6l-11.8 20.8zM301.4 530.6h23.6l-11.8 20.8zM305.6 529.9h23.6l-11.8 20.8zM309.8 529.2h23.6l-11.8 20.8zM313.9 528.5h23.6l-11.8 20.8zM318.1 527.7h23.6l-11.8 20.8zM322.3 526.9h23.6l-11.8 20.8zM326.5 526.1h23.6l-11.8 20.8zM330.7 525.3h23.6l-11.8 20.8zM334.9 524.5h23.6l-11.8 20.8zM339.1 523.7h23.6l-11.8 20.8zM343.2 522.8h23.6l-11.8 20.8zM347.4 521.9h23.6l-11.8 20.8zM351.6 521.1h23.6l-11.8 20.8zM355.8 520.1h23.6l-11.8 20.8zM360 519.1h23.6l-11.8 20.8zM364.2 518.1h23.6l-11.8 20.8zM368.3 517.1h23.6l-11.8 20.8zM372.5 515.9h23.6l-11.8 20.8zM376.7 514.7h23.6l-11.8 20.8zM380.9 513.5h23.6l-11.8 20.8zM385.1 512.2h23.6l-11.8 20.8zM389.3 510.8h23.6l-11.8 20.8zM393.5 509.4h23.6l-11.8 20.8zM397.6 508h23.6l-11.8 20.8zM401.8 506.5h23.6l-11.8 20.8zM406 505h23.6l-11.8 20.8zM410.2 503.4h23.6l-11.8 20.8zM414.4 501.8h23.6l-11.8 20.8zM418.6 500.2h23.6l-11.8 20.8zM422.8 498.4h23.6l-11.8 20.8zM426.9 496.6h23.6l-11.8 20.8zM431.1 494.8h23.6l-11.8 20.8zM435.3 492.9h23.6l-11.8 20.8zM439.5 491h23.6l-11.8 20.8zM443.7 489.1h23.6l-11.8 20.8zM447.9 487.2h23.6l-11.8 20.8zM452 485.3h23.6l-11.8 20.8zM456.2 483.2h23.6l-11.8 20.8zM460.4 481.1h23.6l-11.8 20.8zM464.6 478.8h23.6l-11.8 20.8zM468.8 476.3h23.6l-11.8 20.8zM473 473.6h23.6l-11.8 20.8zM477.2 470.6h23.6l-11.8 20.8zM481.3 467.3h23.6l-11.8 20.8zM485.5 463.7h23.6l-11.8 20.8zM489.7 459.8h23.6l-11.8 20.8zM493.9 455.7h23.6l-11.8 20.8zM498.1 451.3h23.6l-11.8 20.8zM502.3 446.4h23.6l-11.8 20.8zM506.4 440.9h23.6l-11.8 20.8zM510.6 434.6h23.6l-11.8 20.8zM514.8 426.5h23.6l-11.8 20.8zM519 417h23.6l-11.8 20.8zM523.2 406.8h23.6l-11.8 20.8zM526.4 397.3h23.6l-11.8 20.8zM528.1 385.5h23.6l-11.8 20.8zM531.5 366.1h23.6l-11.8 20.8zM535.7 339.3h23.6l-11.8 20.8zM539.9 308.3h23.6l-11.8 20.8zM544.1 273.9h23.6l-11.8 20.8zM548.3 242.6h23.6l-11.8 20.8zM552.5 214.2h23.6l-11.8 20.8zM556.7 189.4h23.6l-11.8 20.8zM561.1 169.2h23.6l-11.8 20.8zM567.1 150.6h23.6l-11.8 20.8zM572.8 136.1h23.6l-11.8 20.8zM577.6 125.1h23.6l-11.8 20.8zM581.8 116.4h23.6l-11.8 20.8zM586 109.5h23.6l-11.8 20.8zM590.2 103.7h23.6l-11.8 20.8zM594.3 98.5h23.6l-11.8 20.8zM598.5 94h23.6l-11.8 20.8zM602.7 90.2h23.6l-11.8 20.8zM606.9 87h23.6l-11.8 20.8zM611.1 84.2h23.6l-11.8 20.8zM615.3 81.9h23.6l-11.8 20.8zM619.4 79.8h23.6l-11.8 20.8zM623.6 77.9h23.6l-11.8 20.8zM627.8 76.2h23.6l-11.8 20.8zM632 74.8h23.6l-11.8 20.8zM636.2 73.6h23.6l-11.8 20.8zM640.4 72.5h23.6l-11.8 20.8zM644.6 71.5h23.6l-11.8 20.8zM648.7 70.6h23.6l-11.8 20.8zM652.9 69.7h23.6l-11.8 20.8zM657.1 68.9h23.6l-11.8 20.8zM661.3 68.2h23.6l-11.8 20.8zM665.5 67.5h23.6l-11.8 20.8zM669.7 66.9h23.6l-11.8 20.8zM673.9 66.3h23.6l-11.8 20.8zM678 65.7h23.6l-11.8 20.8zM682.2 65.2h23.6l-11.8 20.8zM686.4 64.6h23.6l-11.8 20.8zM690.6 64.2h23.6l-11.8 20.8zM694.8 63.8h23.6l-11.8 20.8zM699 63.4h23.6l-11.8 20.8zM703.1 63.1h23.6l-11.8 20.8zM707.3 62.8h23.6l-11.8 20.8zM711.5 62.5h23.6l-11.8 20.8zM715.7 62.3h23.6l-11.8 20.8zM719.9 62h23.6l-11.8 20.8zM724.1 61.8h23.6l-11.8 20.8zM728.3 61.5h23.6l-11.8 20.8zM732.4 61.3h23.6l-11.8 20.8zM736.6 61.1h23.6l-11.8 20.8zM740.8 60.9h23.6l-11.8 20.8zM745 60.7h23.6l-11.8 20.8zM749.2 60.5h23.6l-11.8 20.8zM753.4 60.3h23.6l-11.8 20.8zM757.6 60.1h23.6l-11.8 20.8zM761.7 59.9h23.6l-11.8 20.8zM765.9 59.7h23.6l-11.8 20.8zM770.1 59.5h23.6l-11.8 20.8zM774.3 59.3h23.6l-11.8 20.8zM778.5 59.1h23.6l-11.8 20.8zM782.7 58.9h23.6l-11.8 20.8zM786.8 58.7h23.6l-11.8 20.8zM791 58.5h23.6l-11.8 20.8zM795.2 58.3h23.6l-11.8 20.8zM799.4 58.2h23.6l-11.8 20.8zM803.6 58h23.6l-11.8 20.8zM807.8 57.8h23.6l-11.8 20.8zM812 57.6h23.6l-11.8 20.8zM816.1 57.5h23.6l-11.8 20.8zM820.3 57.3h23.6l-11.8 20.8zM824.5 57.2h23.6l-11.8 20.8zM828.7 57.1h23.6l-11.8 20.8zM832.9 56.9h23.6l-11.8 20.8zM837.1 56.8h23.6l-11.8 20.8zM841.2 56.7h23.6l-11.8 20.8zM845.4 56.6h23.6l-11.8 20.8zM849.6 56.5h23.6l-11.8 20.8zM853.8 56.4h23.6l-11.8 20.8zM858 56.3h23.6l-11.8 20.8zM862.2 56.2h23.6l-11.8 20.8zM866.4 56.1h23.6l-11.8 20.8zM870.5 56h23.6l-11.8 20.8zM874.7 55.9h23.6l-11.8 20.8zM878.9 55.8h23.6l-11.8 20.8zM883.1 55.7h23.6l-11.8 20.8zM887.3 55.6h23.6l-11.8 20.8zM891.5 55.5h23.6l-11.8 20.8zM895.7 55.4h23.6l-11.8 20.8zM899.8 55.3h23.6l-11.8 20.8zM904 55.2h23.6l-11.8 20.8zM908.2 55.2h23.6l-11.8 20.8zM912.4 55.1h23.6l-11.8 20.8zM916.6 55h23.6l-11.8 20.8zM920.8 54.9h23.6l-11.8 20.8zM925 54.9h23.6l-11.8 20.8zM929.1 54.8h23.6l-11.8 20.8zM933.3 54.7h23.6l-11.8 20.8zM937.5 54.7h23.6l-11.8 20.8zM941.7 54.6h23.6l-11.8 20.8zM945.9 54.6h23.6l-11.8 20.8zM950.1 54.6h23.6l-11.8 20.8zM954.2 54.5h23.6l-11.8 20.8zM958.4 54.5h23.6l-11.8 20.8zM962.6 54.5h23.6l-11.8 20.8zM966.8 54.4h23.6l-11.8 20.8zM129.8 550.3h23.6l-11.8 20.8zM134 549.9h23.6l-11.8 20.8zM138.2 549.5h23.6l-11.8 20.8zM142.4 549.1h23.6l-11.8 20.8zM146.5 548.8h23.6l-11.8 20.8zM150.7 548.4h23.6l-11.8 20.8zM154.9 548h23.6l-11.8 20.8zM159.1 547.6h23.6l-11.8 20.8zM163.3 547.2h23.6l-11.8 20.8zM167.5 546.7h23.6l-11.8 20.8zM171.6 546.3h23.6l-11.8 20.8zM175.8 545.9h23.6l-11.8 20.8zM180 545.5h23.6l-11.8 20.8zM184.2 545h23.6l-11.8 20.8zM188.4 544.6h23.6l-11.8 20.8zM192.6 544.1h23.6l-11.8 20.8zM196.8 543.7h23.6l-11.8 20.8zM200.9 543.2h23.6l-11.8 20.8zM205.1 542.8h23.6l-11.8 20.8zM209.3 542.3h23.6l-11.8 20.8zM213.5 541.8h23.6l-11.8 20.8zM217.7 541.4h23.6l-11.8 20.8zM221.9 540.9h23.6l-11.8 20.8zM226.1 540.4h23.6l-11.8 20.8zM230.2 540h23.6l-11.8 20.8zM234.4 539.5h23.6l-11.8 20.8zM238.6 539h23.6l-11.8 20.8zM242.8 538.5h23.6l-11.8 20.8zM247 538h23.6l-11.8 20.8zM251.2 537.5h23.6l-11.8 20.8zM255.4 536.9h23.6l-11.8 20.8zM259.5 536.4h23.6l-11.8 20.8zM263.7 535.9h23.6l-11.8 20.8zM267.9 535.3h23.6l-11.8 20.8zM272.1 534.8h23.6l-11.8 20.8zM276.3 534.2h23.6l-11.8 20.8zM280.5 533.7h23.6l-11.8 20.8zM284.6 533.1h23.6l-11.8 20.8zM288.8 532.5h23.6l-11.8 20.8zM293 531.9h23.6l-11.8 20.8zM297.2 531.2h23.6l-11.8 20.8zM301.4 530.6h23.6l-11.8 20.8zM305.6 529.9h23.6l-11.8 20.8zM309.8 529.2h23.6l-11.8 20.8zM313.9 528.5h23.6l-11.8 20.8zM318.1 527.7h23.6l-11.8 20.8zM322.3 526.9h23.6l-11.8 20.8zM326.5 526.1h23.6l-11.8 20.8zM330.7 525.3h23.6l-11.8 20.8zM334.9 524.5h23.6l-11.8 20.8zM339.1 523.7h23.6l-11.8 20.8zM343.2 522.8h23.6l-11.8 20.8zM347.4 521.9h23.6l-11.8 20.8zM351.6 521.1h23.6l-11.8 20.8zM355.8 520.1h23.6l-11.8 20.8zM360 519.1h23.6l-11.8 20.8zM364.2 518.1h23.6l-11.8 20.8zM368.3 517.1h23.6l-11.8 20.8zM372.5 515.9h23.6l-11.8 20.8zM376.7 514.7h23.6l-11.8 20.8zM380.9 513.5h23.6l-11.8 20.8zM385.1 512.2h23.6l-11.8 20.8zM389.3 510.8h23.6l-11.8 20.8zM393.5 509.4h23.6l-11.8 20.8zM397.6 508h23.6l-11.8 20.8zM401.8 506.5h23.6l-11.8 20.8zM406 505h23.6l-11.8 20.8zM410.2 503.4h23.6l-11.8 20.8zM414.4 501.8h23.6l-11.8 20.8zM418.6 500.2h23.6l-11.8 20.8zM422.8 498.4h23.6l-11.8 20.8zM426.9 496.6h23.6l-11.8 20.8zM431.1 494.8h23.6l-11.8 20.8zM435.3 492.9h23.6l-11.8 20.8zM439.5 491h23.6l-11.8 20.8zM443.7 489.1h23.6l-11.8 20.8zM447.9 487.2h23.6l-11.8 20.8zM452 485.3h23.6l-11.8 20.8zM456.2 483.2h23.6l-11.8 20.8zM460.4 481.1h23.6l-11.8 20.8zM464.6 478.8h23.6l-11.8 20.8zM468.8 476.3h23.6l-11.8 20.8zM473 473.6h23.6l-11.8 20.8zM477.2 470.6h23.6l-11.8 20.8zM481.3 467.3h23.6l-11.8 20.8zM485.5 463.7h23.6l-11.8 20.8zM489.7 459.8h23.6l-11.8 20.8zM493.9 455.7h23.6l-11.8 20.8zM498.1 451.3h23.6l-11.8 20.8zM502.3 446.4h23.6l-11.8 20.8zM506.4 440.9h23.6l-11.8 20.8zM510.6 434.6h23.6l-11.8 20.8zM514.8 426.5h23.6l-11.8 20.8zM519 417h23.6l-11.8 20.8zM523.2 406.8h23.6l-11.8 20.8zM525.9 397.8h23.6l-11.8 20.8zM526.4 387.2h23.6l-11.8 20.8zM529.4 368.2h23.6l-11.8 20.8zM533.6 341.4h23.6l-11.8 20.8zM537.8 310.4h23.6l-11.8 20.8zM542 276h23.6l-11.8 20.8zM546.2 244.8h23.6l-11.8 20.8zM550.4 216.4h23.6l-11.8 20.8zM554.6 191.6h23.6l-11.8 20.8zM559.1 171.2h23.6l-11.8 20.8zM566 151.7h23.6l-11.8 20.8zM572.6 136.4h23.6l-11.8 20.8zM577.6 125.1h23.6l-11.8 20.8zM581.8 116.4h23.6l-11.8 20.8zM586 109.5h23.6l-11.8 20.8zM590.2 103.7h23.6l-11.8 20.8zM594.3 98.5h23.6l-11.8 20.8zM598.5 94h23.6l-11.8 20.8zM602.7 90.2h23.6l-11.8 20.8zM606.9 87h23.6l-11.8 20.8zM611.1 84.2h23.6l-11.8 20.8zM615.3 81.9h23.6l-11.8 20.8zM619.4 79.8h23.6l-11.8 20.8zM623.6 77.9h23.6l-11.8 20.8zM627.8 76.2h23.6l-11.8 20.8zM632 74.8h23.6l-11.8 20.8zM636.2 73.6h23.6l-11.8 20.8zM640.4 72.5h23.6l-11.8 20.8zM644.6 71.5h23.6l-11.8 20.8zM648.7 70.6h23.6l-11.8 20.8zM652.9 69.7h23.6l-11.8 20.8zM657.1 68.9h23.6l-11.8 20.8zM661.3 68.2h23.6l-11.8 20.8zM665.5 67.5h23.6l-11.8 20.8zM669.7 66.9h23.6l-11.8 20.8zM673.9 66.3h23.6l-11.8 20.8zM678 65.7h23.6l-11.8 20.8zM682.2 65.2h23.6l-11.8 20.8zM686.4 64.6h23.6l-11.8 20.8zM690.6 64.2h23.6l-11.8 20.8zM694.8 63.8h23.6l-11.8 20.8zM699 63.4h23.6l-11.8 20.8zM703.1 63.1h23.6l-11.8 20.8zM707.3 62.8h23.6l-11.8 20.8zM711.5 62.5h23.6l-11.8 20.8zM715.7 62.3h23.6l-11.8 20.8zM719.9 62h23.6l-11.8 20.8zM724.1 61.8h23.6l-11.8 20.8zM728.3 61.5h23.6l-11.8 20.8zM732.4 61.3h23.6l-11.8 20.8zM736.6 61.1h23.6l-11.8 20.8zM740.8 60.9h23.6l-11.8 20.8zM745 60.7h23.6l-11.8 20.8zM749.2 60.5h23.6l-11.8 20.8zM753.4 60.3h23.6l-11.8 20.8zM757.6 60.1h23.6l-11.8 20.8zM761.7 59.9h23.6l-11.8 20.8zM765.9 59.7h23.6l-11.8 20.8zM770.1 59.5h23.6l-11.8 20.8zM774.3 59.3h23.6l-11.8 20.8zM778.5 59.1h23.6l-11.8 20.8zM782.7 58.9h23.6l-11.8 20.8zM786.8 58.7h23.6l-11.8 20.8zM791 58.5h23.6l-11.8 20.8zM795.2 58.3h23.6l-11.8 20.8zM799.4 58.2h23.6l-11.8 20.8zM803.6 58h23.6l-11.8 20.8zM807.8 57.8h23.6l-11.8 20.8zM812 57.6h23.6l-11.8 20.8zM816.1 57.5h23.6l-11.8 20.8zM820.3 57.3h23.6l-11.8 20.8zM824.5 57.2h23.6l-11.8 20.8zM828.7 57.1h23.6l-11.8 20.8zM832.9 56.9h23.6l-11.8 20.8zM837.1 56.8h23.6l-11.8 20.8zM841.2 56.7h23.6l-11.8 20.8zM845.4 56.6h23.6l-11.8 20.8zM849.6 56.5h23.6l-11.8 20.8zM853.8 56.4h23.6l-11.8 20.8zM858 56.3h23.6l-11.8 20.8zM862.2 56.2h23.6l-11.8 20.8zM866.4 56.1h23.6l-11.8 20.8zM870.5 56h23.6l-11.8 20.8zM874.7 55.9h23.6l-11.8 20.8zM878.9 55.8h23.6l-11.8 20.8zM883.1 55.7h23.6l-11.8 20.8zM887.3 55.6h23.6l-11.8 20.8zM891.5 55.5h23.6l-11.8 20.8zM895.7 55.4h23.6l-11.8 20.8zM899.8 55.3h23.6l-11.8 20.8zM904 55.2h23.6l-11.8 20.8zM908.2 55.2h23.6l-11.8 20.8zM912.4 55.1h23.6l-11.8 20.8zM916.6 55h23.6l-11.8 20.8zM920.8 54.9h23.6l-11.8 20.8zM925 54.9h23.6l-11.8 20.8zM929.1 54.8h23.6l-11.8 20.8zM933.3 54.7h23.6l-11.8 20.8zM937.5 54.7h23.6l-11.8 20.8zM941.7 54.6h23.6l-11.8 20.8zM945.9 54.6h23.6l-11.8 20.8zM950.1 54.6h23.6l-11.8 20.8zM954.2 54.5h23.6l-11.8 20.8zM958.4 54.5h23.6l-11.8 20.8zM962.6 54.5h23.6l-11.8 20.8zM966.8 54.4h23.6l-11.8 20.8z" fill="#0000fe"/>
</g>
<path d="M466.4 283.5L464 300M460.1 326.5L456.7 350M505.6 292L502.6 313M498.9 338L496.3 356M492.9 380L490.3 397.5M543.2 248L540.8 264.5M537.1 290L534.8 306M531.2 331L528.6 348.5M581.9 233.5L579.4 250.5M575.9 275L572.4 299" stroke="#000" stroke-width="4.3" stroke-linecap="round" fill="none"/>
<path d="M453.7 371L448.8 345.9L462.6 347.1ZM508.6 271.5L513 295.7L499.3 294.3ZM546.2 227.5L550.6 252.2L536.8 250.8ZM569.3 320.5L565 296.2L578.7 297.8Z" fill="#000" stroke="#000" stroke-width="1" stroke-linejoin="round"/>
<g font-size="37" text-anchor="end">
<text x="127.6" y="638.6">0.0</text>
<text x="127.6" y="525.5">0.2</text>
<text x="127.6" y="412.3">0.4</text>
<text x="127.6" y="299.2">0.6</text>
<text x="127.6" y="186">0.8</text>
<text x="127.6" y="72.9">1.0</text>
</g>
<g font-size="37" text-anchor="middle">
<text x="140.1" y="669.5">-10</text>
<text x="349.4" y="669.5">-5</text>
<text x="558.9" y="669.5">0</text>
<text x="768.1" y="669.5">5</text>
<text x="978.6" y="669.5">10</text>
</g>
<text x="369.5" y="736.3" font-size="49.5" textLength="345" lengthAdjust="spacingAndGlyphs">Gate Voltage(V)</text>
<text transform="translate(42.6 407.5) rotate(-90)" font-size="50" textLength="83" lengthAdjust="spacingAndGlyphs">C/C</text>
<text transform="translate(61.2 325.8) rotate(-90)" font-size="30">ox</text>
<path d="M158.8 142.5H185.4M212 142.5H238.8" stroke="#222" stroke-width="1.5"/>
<rect x="189.2" y="133.2" width="17.7" height="17.3" fill="#000"/>
<path d="M159.6 197H184.3M212.5 197H237.6" stroke="#0000fe" stroke-width="4.3" stroke-linecap="round"/>
<path d="M186.9 189.7H210.5L198.7 210.6Z" fill="#0000fe"/>
<text x="248.5" y="154.3" font-size="34.5">stacking SiO<tspan font-size="20.5" dy="12.5" dx="1">2</tspan></text>
<text x="248.5" y="208.5" font-size="34.5">thermal SiO<tspan font-size="20.5" dy="12.5" dx="1">2</tspan></text>
<text x="661" y="285" font-size="37.2">Sweep direction</text>
<g font-size="29.2" font-style="italic">
<text x="667" y="331.5">forward:</text>
<text x="667.5" y="381.7">dep</text><text x="783.5" y="381.7">acc</text>
<text x="667" y="434.5">backward:</text>
<text x="667.5" y="479.2">acc</text><text x="776" y="479.2">dep</text>
</g>
<path d="M719.5 377.2H760M713.5 475H753" stroke="#000" stroke-width="4" stroke-linecap="round"/>
<path d="M778.5 377.2L754 371.2V383.2ZM772 475L747.5 469V481Z" fill="#000"/>
</g>
</svg></body></html>
